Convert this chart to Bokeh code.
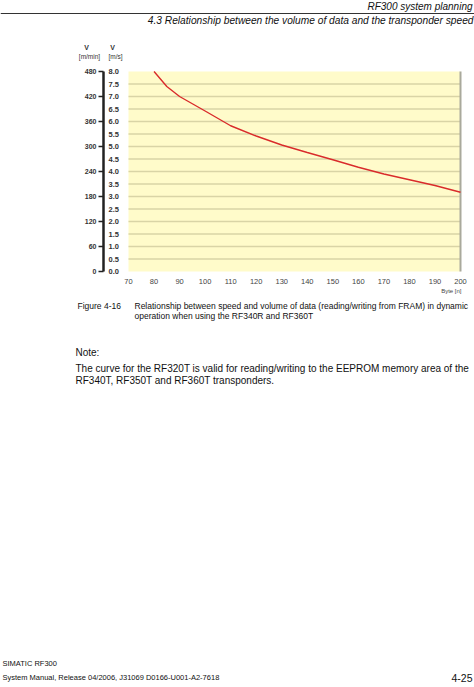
from bokeh.plotting import figure
from bokeh.models import Range1d, Label
from bokeh.core.properties import value
from bokeh.embed import file_html
from bokeh.resources import INLINE

# ---- data ----
data_bytes = [80, 85, 90, 100, 110, 120, 130, 140, 150, 160, 170, 180, 190, 200]
speed_ms = [8.0, 7.4, 7.0, 6.42, 5.83, 5.42, 5.06, 4.76, 4.47, 4.17, 3.9, 3.67, 3.44, 3.17]

x_ticks = [70, 80, 90, 100, 110, 120, 130, 140, 150, 160, 170, 180, 190, 200]
x_labels = ["70", "80", "90", "100", "110", "120", "130", "140", "150", "160",
            "170", "180", "190", "200"]
mmin_ticks = [0, 60, 120, 180, 240, 300, 360, 420, 480]
mmin_labels = ["0", "60", "120", "180", "240", "300", "360", "420", "480"]
ms_ticks = [0.0, 0.5, 1.0, 1.5, 2.0, 2.5, 3.0, 3.5, 4.0, 4.5, 5.0, 5.5, 6.0, 6.5, 7.0, 7.5, 8.0]
ms_labels = ["0.0", "0.5", "1.0", "1.5", "2.0", "2.5", "3.0", "3.5", "4.0",
             "4.5", "5.0", "5.5", "6.0", "6.5", "7.0", "7.5", "8.0"]
MMIN_PER_MS = 60.0

FONT = "Liberation Sans"
W, H = 474, 687

# page geometry of the chart (pixels): plot area 128..460 x 71..271, axis line at 103
PX_L, PX_R, PY_T, PY_B, PX_AX = 128, 460, 71, 271, 103
ppb = (PX_R - PX_L) / (x_ticks[-1] - x_ticks[0])
ppv = (PY_B - PY_T) / (ms_ticks[-1] - ms_ticks[0])
x0 = x_ticks[0] - PX_L / ppb
x1 = x_ticks[0] + (W - PX_L) / ppb
y1 = ms_ticks[-1] + PY_T / ppv
y0 = ms_ticks[0] - (H - PY_B) / ppv
ax_x = x_ticks[0] - (PX_L - PX_AX) / ppb

p = figure(width=W, height=H, output_backend="svg", toolbar_location=None,
           x_range=Range1d(x0, x1), y_range=Range1d(y0, y1),
           x_axis_location=None, y_axis_location=None,
           min_border=0, min_border_left=0, min_border_right=0,
           min_border_top=0, min_border_bottom=0)
p.grid.visible = False
p.outline_line_color = None
p.background_fill_color = "white"
p.border_fill_color = "white"

# yellow plotting area
p.quad(left=x_ticks[0], right=x_ticks[-1], bottom=ms_ticks[0], top=ms_ticks[-1],
       fill_color="#fffbca", line_color=None)
# horizontal grid lines every 0.5 m/s
p.segment(x0=x_ticks[0], x1=x_ticks[-1], y0=ms_ticks[1:-1], y1=ms_ticks[1:-1],
          line_color="#d9d4a6", line_width=1.3)
# right border of the plot area
p.segment(x0=x_ticks[-1], x1=x_ticks[-1], y0=ms_ticks[0], y1=ms_ticks[-1],
          line_color="#a9a99c", line_width=2)

# curve
p.line(data_bytes, speed_ms, line_color="#d92b2b", line_width=1.4)

# vertical axis line with m/min ticks to the left
p.segment(x0=ax_x, x1=ax_x, y0=ms_ticks[0], y1=ms_ticks[-1],
          line_color="#222222", line_width=2.5)
mmin_y = [v / MMIN_PER_MS for v in mmin_ticks]
p.segment(x0=ax_x - 5 / ppb, x1=ax_x, y0=mmin_y, y1=mmin_y,
          line_color="#222222", line_width=1.3)
p.text(x=ax_x, y=mmin_y, text=mmin_labels, x_offset=-7, text_baseline="middle",
       text_align="right", text_font_size="7px", text_font_style="bold",
       text_color="#333333", text_font=value(FONT))
# m/s labels right of the axis line
p.text(x=ax_x, y=ms_ticks, text=ms_labels, x_offset=5, text_baseline="middle",
       text_align="left", text_font_size="7.5px", text_font_style="bold",
       text_color="#333333", text_font=value(FONT))
# byte labels below the plot area
p.text(x=x_ticks, y=ms_ticks[0], text=x_labels, y_offset=10, text_baseline="middle",
       text_align="center", text_font_size="7.5px", text_color="#444444",
       text_font=value(FONT))


def page_label(px, py, text, size, align="left", style="normal", color="#111111",
               baseline="middle"):
    p.add_layout(Label(x=px, y=H - py, x_units="screen", y_units="screen", text=text,
                       text_font_size=f"{size}px", text_align=align,
                       text_baseline=baseline, text_font_style=style,
                       text_color=color, text_font=FONT))


# chart axis headers
page_label(86, 47, "V", 7, align="center", style="bold", color="#333333")
page_label(112, 47, "V", 7, align="center", style="bold", color="#333333")
page_label(89, 56, "[m/min]", 6.5, align="center", color="#333333")
page_label(115, 56, "[m/s]", 6.5, align="center", color="#333333")
page_label(461, 290, "Byte [n]", 6, align="right", color="#444444")

# page header
page_label(472, 6, "RF300 system planning", 10, align="right", style="italic")
p.quad(left=x0, right=x1, top=y1 - 12.5 / ppv, bottom=y1 - 13.5 / ppv,
       fill_color="#333333", line_color=None)
page_label(473, 19.5, "4.3 Relationship between the volume of data and the transponder speed",
           10.2, align="right", style="italic")

# caption and note
page_label(77, 305, "Figure 4-16", 8.5)
page_label(134, 305, "Relationship between speed and volume of data (reading/writing from FRAM) in dynamic", 8.5)
page_label(134, 315.5, "operation when using the RF340R and RF360T", 8.5)
page_label(75, 352, "Note:", 10)
page_label(75, 368, "The curve for the RF320T is valid for reading/writing to the EEPROM memory area of the", 10)
page_label(75, 379.5, "RF340T, RF350T and RF360T transponders.", 10)

# footer
page_label(2, 663, "SIMATIC RF300", 7.5)
page_label(2, 677, "System Manual, Release 04/2006, J31069 D0166-U001-A2-7618", 7.5)
page_label(472, 677, "4-25", 10.5, align="right")

open("out.html", "w").write(file_html(p, INLINE))
